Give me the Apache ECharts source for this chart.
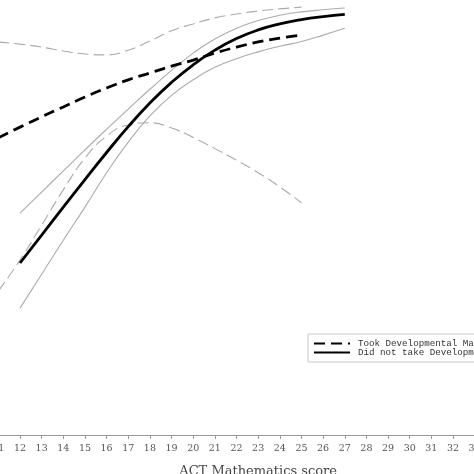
<!DOCTYPE html>
<html>
<head>
<meta charset="utf-8">
<script src="https://cdn.jsdelivr.net/npm/echarts@6/dist/echarts.min.js"></script>
<style>
html,body{margin:0;padding:0;background:#fff;}
#chart{width:474px;height:474px;}
</style>
</head>
<body>
<div id="chart"></div>
<script>
// ACT Mathematics score (x)
const scoresNoDev = [12,13,14,15,16,17,18,19,20,21,22,23,24,25,26,27];
const scoresDev   = [11,12,13,14,15,16,17,18,19,20,21,22,23,24,25];

// Did not take Developmental Math: estimate and confidence band
const noDevFit   = [0.400,0.465,0.530,0.594,0.657,0.717,0.772,0.820,0.861,0.895,0.922,0.942,0.956,0.966,0.973,0.978];
const noDevUpper = [0.516,0.565,0.614,0.663,0.711,0.758,0.804,0.848,0.888,0.921,0.946,0.964,0.976,0.984,0.989,0.993];
const noDevLower = [0.295,0.374,0.453,0.530,0.610,0.681,0.742,0.790,0.826,0.855,0.875,0.891,0.904,0.915,0.930,0.946];

// Took Developmental Math: estimate and confidence band
const devFit   = [0.691,0.716,0.740,0.763,0.786,0.807,0.826,0.842,0.858,0.872,0.888,0.902,0.914,0.923,0.930];
const devUpper = [0.914,0.909,0.902,0.893,0.886,0.884,0.895,0.916,0.940,0.956,0.970,0.979,0.986,0.991,0.995];
const devLower = [0.335,0.407,0.488,0.570,0.644,0.695,0.721,0.726,0.714,0.692,0.666,0.639,0.610,0.577,0.540];

const nameDev = 'Took Developmental Math';
const nameNoDev = 'Did not take Developmental Math';
const xTitle = 'ACT Mathematics score';

function pairs(xs, ys){ return xs.map((x,i)=>[x, ys[i]]); }

const gray = '#ababab';
const chart = echarts.init(document.getElementById('chart'), null, {renderer:'canvas'});

function band(name, xs, ys, dashed){
  return {
    name: name, type:'line', data: pairs(xs, ys), smooth: 0.5, symbol:'none',
    silent:true, z:1,
    lineStyle:{color: gray, width:1.1, type: dashed ? [11,5] : 'solid'}
  };
}

chart.setOption({
  animation:false,
  backgroundColor:'#fff',
  grid:{left:-23.3, right:-65.6, top:5, bottom:39, containLabel:false, outerBoundsMode:'none'},
  xAxis:{
    type:'value', min:10, max:36, interval:1,
    name: xTitle, nameLocation:'middle', nameGap:30,
    nameTextStyle:{fontFamily:'DejaVu Serif', fontSize:13, color:'#444'},
    axisLine:{show:true, lineStyle:{color:'#999', width:1}},
    axisTick:{show:true, length:4, lineStyle:{color:'#999'}},
    axisLabel:{fontFamily:'DejaVu Serif', fontSize:9.5, color:'#555', margin:9},
    splitLine:{show:false}
  },
  yAxis:{
    type:'value', min:0, max:1, show:false
  },
  legend:{
    left:308, top:334, orient:'vertical',
    data:[nameDev, nameNoDev],
    itemWidth:36, itemHeight:9, itemGap:0,
    padding:[5,5,5,5],
    borderColor:'#c8c8c8', borderWidth:1, backgroundColor:'#fff',
    itemStyle:{opacity:0},
    textStyle:{fontFamily:'Liberation Mono', fontSize:9.2, color:'#333', padding:[0,0,0,3]},
    selectedMode:false
  },
  series:[
    band('noDevUpper', scoresNoDev, noDevUpper, false),
    band('noDevLower', scoresNoDev, noDevLower, false),
    band('devUpper', scoresDev, devUpper, true),
    band('devLower', scoresDev, devLower, true),
    {
      name: nameDev, type:'line', data: pairs(scoresDev, devFit), smooth:0.5, symbol:'none', z:3,
      lineStyle:{color:'#000', width:2.8, type:[11,6]}, itemStyle:{color:'#000'}
    },
    {
      name: nameNoDev, type:'line', data: pairs(scoresNoDev, noDevFit), smooth:0.5, symbol:'none', z:3,
      lineStyle:{color:'#000', width:2.8, type:'solid'}, itemStyle:{color:'#000'}
    }
  ]
});
</script>
</body>
</html>
